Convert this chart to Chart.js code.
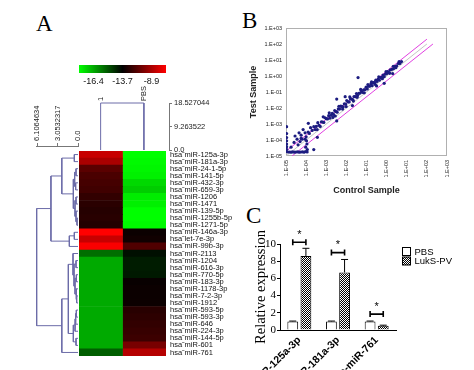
<!DOCTYPE html>
<html>
<head>
<meta charset="utf-8">
<script src="https://cdn.jsdelivr.net/npm/chart.js@4.4.1/dist/chart.umd.min.js"></script>
<style>
  html, body { margin: 0; padding: 0; background: #fff; }
  body { width: 474px; height: 370px; position: relative; overflow: hidden; }
  canvas { position: absolute; }
  .tag { position: absolute; font: 23px/23px 'Liberation Serif', 'Times New Roman', serif; color: #000; }
</style>
</head>
<body>
<div class="tag" style="left:36px;top:12px">A</div>
<div class="tag" style="left:242px;top:9px">B</div>
<div class="tag" style="left:246px;top:204px">C</div>
<canvas id="scaleBar" width="87" height="30" style="left:79px;top:60px"></canvas>
<canvas id="heat" width="163" height="205" style="left:79px;top:151px"></canvas>
<canvas id="colTree" width="140" height="76" style="left:79px;top:80px"></canvas>
<canvas id="rowTree" width="50" height="266" style="left:30px;top:90px"></canvas>
<canvas id="scatter" width="230" height="200" style="left:244px;top:0px"></canvas>
<canvas id="bars" width="224" height="195" style="left:250px;top:205px"></canvas>
<script>
const SANS = "'Liberation Sans', Arial, sans-serif"
const SERIF = "'Liberation Serif', 'Times New Roman', serif"
const TREE = '#6c6ca8'

// --- A: heatmap ---
const mirnas = [
  'hsa˜miR-125a-3p', 'hsa˜miR-181a-3p', 'hsa˜miR-24-1-5p', 'hsa˜miR-141-5p', 'hsa˜miR-432-3p',
  'hsa˜miR-659-3p', 'hsa˜miR-1206', 'hsa˜miR-1471', 'hsa˜miR-139-5p', 'hsa˜miR-1255b-5p',
  'hsa˜miR-1271-5p', 'hsa˜miR-146a-3p', 'hsa˜let-7e-3p', 'hsa˜miR-99b-3p', 'hsa˜miR-2113',
  'hsa˜miR-1204', 'hsa˜miR-616-3p', 'hsa˜miR-770-5p', 'hsa˜miR-183-3p', 'hsa˜miR-1178-3p',
  'hsa˜miR-7-2-3p', 'hsa˜miR-1912', 'hsa˜miR-593-5p', 'hsa˜miR-593-3p', 'hsa˜miR-646',
  'hsa˜miR-224-3p', 'hsa˜miR-144-5p', 'hsa˜miR-601', 'hsa˜miR-761',
]
const sampleNames = ['1', 'PBS']
const luksLevel = [-9.95, -10.5, -12.0, -12.3, -12.4, -12.5, -12.75, -12.9, -13.0, -12.95, -13.05,
  -8.9, -9.95, -9.0, -14.86, -15.5, -15.5, -15.5, -15.5, -15.5, -15.5, -15.5, -15.5, -15.5,
  -15.5, -15.5, -15.5, -15.5, -14.7]
const pbsLevel = [-16.4, -16.35, -16.3, -16.25, -16.0, -15.87, -16.2, -16.24, -16.4, -16.4, -16.35,
  -13.5, -13.4, -12.2, -13.86, -14.0, -14.0, -13.96, -13.55, -13.5, -13.5, -13.47, -12.95,
  -12.85, -12.76, -12.66, -12.57, -11.45, -10.3]
const scaleText = ['-16.4', '-13.7', '-8.9']
const scaleLow = -16.4, scaleMid = -13.7, scaleHigh = -8.9

// row tree: [left, right, height], leaves are row indexes
const rowTree = [
  [[[0, 1, 0.55],
    [[[2, 3, 0.3], [4, 5, 0.35], 0.5], [[6, 7, 0.3], [8, [9, 10, 0.15], 0.3], 0.45], 0.7], 2.43],
   [[11, 12, 0.55], 13, 1.3], 4.06],
  [[[14, [[15, 16, 0.3], [[17, 18, 0.25], [19, [20, 21, 0.2], 0.3], 0.45], 0.6], 0.75],
    [[[[22, 23, 0.25], 24, 0.35], 25, 0.45], [26, 27, 0.3], 0.7], 1.45], 28, 2.43],
  6.2,
]
const rowTreeTicks = [0, 3.0532317, 6.1064634]
const rowTreeTickText = ['0.0', '3.0532317', '6.1064634']
const colTreeHeight = 18.527044
const colTreeTicks = [0, 9.263522, 18.527044]
const colTreeTickText = ['0.0', '9.263522', '18.527044']

// --- B: scatter (log10 values) ---
const controlLog = [
  -4.97, -4.97, -4.97, -4.97, -4.97, -4.97, -4.97, -4.97,
  -4.9, -4.82, -4.74, -4.66, -4.58, -4.5, -4.42, -4.34, -4.26, -4.18, -4.1, -4.02, -3.95,
  -4.0, -3.98, -3.96, -4.02, -3.94, -4.05, -4.3, -4.25,
  -4.55, -4.45, -4.35, -4.25, -4.15, -4.05, -4.6, -4.4, -4.2, -4.75,
  -3.62, -3.44, -2.48, -0.12, -1.7, -0.5, 0.3, -1.42, -2.06, -2.48, -3.89,
  -3.9, -3.84, -3.78, -3.7, -3.62, -3.55, -3.5, -3.42, -3.36, -3.3, -3.24, -3.18, -3.12, -3.06,
  -3.0, -2.94, -2.88, -2.82, -2.76, -2.7, -2.64, -2.58, -2.52, -2.46, -2.4, -2.34, -2.28, -2.22,
  -2.16, -2.1, -2.04, -1.98, -1.92, -1.86, -1.8, -1.74, -1.68, -1.62, -1.56, -1.5, -1.44, -1.38,
  -1.32, -1.26, -1.2, -1.14, -1.08, -1.02, -0.96, -0.9, -0.84, -0.78, -0.72, -0.66, -0.6, -0.54,
  -0.48, -0.42, -0.36, -0.3, -0.24, -0.18, -0.12, -0.06, 0.0, 0.06, 0.12, 0.18, 0.26, 0.34,
  0.42, 0.5, 0.58, 0.66, 0.74,
  -3.45, -3.15, -2.85, -2.67, -2.55, -2.37, -2.19, -2.01, -1.83, -1.65, -1.47, -1.29, -1.11,
  -0.93, -0.75, -0.57, -0.39, -0.21, -0.03, 0.15, 0.33, 0.46, 0.62,
]
const testLog = [
  -3.17, -3.6, -3.85, -4.05, -4.25, -4.42, -4.58, -4.72,
  -4.75, -4.75, -4.76, -4.74, -4.76, -4.75, -4.74, -4.76, -4.75, -4.74, -4.76, -4.72, -4.75,
  -3.8, -4.05, -4.25, -4.45, -4.6, -3.95, -4.1, -3.9,
  -3.75, -3.95, -3.55, -3.7, -3.35, -3.55, -4.15, -4.3, -3.95, -4.45,
  -4.6, -3.83, -2.81, -0.46, -1.85, -0.62, 0.15, -0.1, -1.29, -1.44, -2.96,
  -3.5, -3.59, -3.23, -3.4, -3.17, -3.35, -3.15, -2.92, -3.08, -3.15, -2.86, -2.88, -2.9, -2.61,
  -2.67, -2.68, -2.48, -2.64, -2.46, -2.34, -2.4, -2.16, -2.22, -2.26, -2.06, -2.07, -1.88, -1.9,
  -1.94, -1.74, -1.76, -1.53, -1.62, -1.62, -1.42, -1.44, -1.48, -1.28, -1.29, -1.1, -1.22, -1.08,
  -1.07, -0.91, -1.02, -0.86, -0.86, -0.7, -0.81, -0.64, -0.64, -0.48, -0.6, -0.42, -0.42, -0.26,
  -0.34, -0.2, -0.26, -0.1, -0.08, 0.06, -0.04, 0.12, 0.14, 0.28, 0.22, 0.38, 0.42, 0.46,
  0.6, 0.64, 0.78, 0.78, 0.9,
  -3.35, -2.55, -2.3, -2.59, -2.5, -1.89, -2.07, -1.91, -1.31, -1.57, -1.33, -0.83, -1.05,
  -0.53, -0.37, -0.52, -0.05, -0.17, 0.27, 0.17, 0.61, 0.52, 0.9,
]
const decadeTicks = [1e-5, 1e-4, 1e-3, 1e-2, 1e-1, 1, 1e1, 1e2, 1e3]
const guideEnds = [1e-5, 1e2]
const foldChange = 2

// --- C: qPCR bars ---
const qpcrGenes = ['hsa-miR-125a-3p', 'hsa-miR-181a-3p', 'hsa-miR-761']
const pbsMean = [1, 1, 1]
const pbsErr = [0.04, 0.04, 0.04]
const luksMean = [8.6, 6.7, 0.5]
const luksErr = [0.9, 1.5, 0.06]
const sigLevel = [10.2, 9.0, 1.85]
const sigMark = ['*', '*', '*']

const base = { responsive: false, animation: false, devicePixelRatio: 1 }
const quiet = { legend: { display: false }, tooltip: { enabled: false } }
const noPad = s => { s.paddingLeft = s.paddingRight = s.paddingTop = s.paddingBottom = 0 }

function heatColour(v) {
  if (v <= scaleMid) {
    const t = Math.min(1, (scaleMid - v) / (scaleMid - scaleLow))
    return `rgb(0,${Math.round(255 * t)},0)`
  }
  const t = Math.min(1, (v - scaleMid) / (scaleHigh - scaleMid))
  return `rgb(${Math.round(255 * t)},0,0)`
}

function treeSegments(tree) {
  const segs = []
  const walk = node => {
    if (typeof node === 'number') return { y: node, h: 0 }
    const a = walk(node[0]), b = walk(node[1]), h = node[2]
    segs.push([{ x: a.h, y: a.y }, { x: h, y: a.y }, { x: h, y: b.y }, { x: b.h, y: b.y }])
    return { y: (a.y + b.y) / 2, h }
  }
  walk(tree)
  return segs
}

function expLabel(v) {
  const e = Math.round(Math.log10(v))
  return '1.E' + (e < 0 ? '-' : '+') + String(Math.abs(e)).padStart(2, '0')
}

function checker() {
  const c = document.createElement('canvas')
  c.width = 2; c.height = 2
  const g = c.getContext('2d')
  g.fillStyle = '#fff'; g.fillRect(0, 0, 2, 2)
  g.fillStyle = '#000'; g.fillRect(0, 0, 1, 1); g.fillRect(1, 1, 1, 1)
  return g.createPattern(c, 'repeat')
}

// colour key
new Chart(document.getElementById('scaleBar'), {
  type: 'bar',
  data: {
    labels: scaleText,
    datasets: [{
      data: [null, 1, null], barPercentage: 3, categoryPercentage: 1,
      backgroundColor: ctx => {
        const { ctx: g, chartArea } = ctx.chart
        if (!chartArea) return '#000'
        const grad = g.createLinearGradient(chartArea.left, 0, chartArea.right, 0)
        grad.addColorStop(0, '#00ff00'); grad.addColorStop(0.5, '#000'); grad.addColorStop(1, '#ff0000')
        return grad
      },
    }],
  },
  options: {
    ...base, layout: { padding: { top: 5 } }, plugins: quiet,
    scales: {
      x: { grid: { display: false, drawTicks: false }, border: { display: false },
           ticks: { font: { family: SANS, size: 9 }, color: '#111', padding: 3 },
           afterFit: s => { s.height = 17; noPad(s) } },
      y: { min: 0, max: 1, display: false },
    },
  },
})

// heatmap cells
new Chart(document.getElementById('heat'), {
  type: 'bar',
  data: {
    labels: mirnas,
    datasets: [
      { label: sampleNames[0], data: mirnas.map(() => 1), backgroundColor: luksLevel.map(heatColour) },
      { label: sampleNames[1], data: mirnas.map(() => 1), backgroundColor: pbsLevel.map(heatColour) },
    ],
  },
  options: {
    ...base, indexAxis: 'y', plugins: quiet,
    datasets: { bar: { categoryPercentage: 1, barPercentage: 1, borderWidth: 0 } },
    scales: {
      x: { stacked: true, min: 0, max: 2, display: false },
      y: { stacked: true, position: 'right', grid: { display: false, drawTicks: false }, border: { display: false },
           ticks: { font: { family: SANS, size: 7.5 }, color: '#111', padding: 4, autoSkip: false },
           afterFit: s => { s.width = 76; noPad(s) } },
    },
  },
})

// column dendrogram
new Chart(document.getElementById('colTree'), {
  type: 'scatter',
  data: {
    datasets: [{
      data: [{ x: 0.5, y: 0 }, { x: 0.5, y: colTreeHeight }, { x: 1.5, y: colTreeHeight }, { x: 1.5, y: 0 }],
      showLine: true, borderColor: TREE, borderWidth: 1, pointRadius: 0, clip: false,
    }],
  },
  options: {
    ...base, layout: { padding: { bottom: 6 } }, plugins: quiet,
    scales: {
      x: { type: 'linear', position: 'top', min: 0, max: 2.08,
           afterBuildTicks: s => { s.ticks = sampleNames.map((_, i) => ({ value: i + 0.5 })) },
           ticks: { callback: v => sampleNames[v - 0.5], minRotation: 90, maxRotation: 90, autoSkip: false,
                    labelOffset: 9, font: { family: SANS, size: 7.5 }, color: '#222', padding: 2 },
           grid: { display: false, drawTicks: false }, border: { display: false },
           afterFit: s => { s.height = 23; noPad(s) } },
      y: { position: 'right', min: 0, max: colTreeHeight,
           afterBuildTicks: s => { s.ticks = colTreeTicks.map(v => ({ value: v })) },
           ticks: { callback: v => colTreeTickText[colTreeTicks.indexOf(v)], autoSkip: false,
                    font: { family: SANS, size: 7.5 }, color: '#222', padding: 2 },
           grid: { drawOnChartArea: false, tickLength: 3, color: '#777' }, border: { color: '#777' },
           afterFit: s => { s.width = 50; noPad(s) } },
    },
  },
})

// row dendrogram
new Chart(document.getElementById('rowTree'), {
  type: 'scatter',
  data: {
    datasets: treeSegments(rowTree).map(seg => ({
      data: seg, showLine: true, borderColor: TREE, borderWidth: 1, pointRadius: 0, clip: false,
    })),
  },
  options: {
    ...base, layout: { padding: { left: 6, right: 2 } }, plugins: quiet,
    scales: {
      x: { type: 'linear', position: 'top', reverse: true, min: 0, max: 6.3,
           afterBuildTicks: s => { s.ticks = rowTreeTicks.map(v => ({ value: v })) },
           ticks: { callback: v => rowTreeTickText[rowTreeTicks.indexOf(v)], minRotation: 90, maxRotation: 90,
                    autoSkip: false, labelOffset: 9, font: { family: SANS, size: 7.5 }, color: '#222', padding: 2 },
           grid: { drawOnChartArea: false, tickLength: 3, color: '#777' }, border: { color: '#777' },
           afterFit: s => { s.height = 56; noPad(s) } },
      y: { type: 'linear', reverse: true, min: -1.21, max: 28.5, display: false },
    },
  },
})

// B: scatter
const logAxis = (title, isX) => ({
  type: 'logarithmic', min: 1e-5, max: 1e3,
  afterBuildTicks: s => { s.ticks = decadeTicks.map(v => ({ value: v })) },
  ticks: { callback: v => expLabel(v), autoSkip: false, font: { family: SANS, size: 5.5 }, color: '#222',
           minRotation: isX ? 90 : 0, maxRotation: isX ? 90 : 0, padding: 4 },
  grid: { display: false, drawTicks: false },
  border: { display: false },
  title: { display: true, text: title, font: { family: SANS, size: 9, weight: 'bold' }, color: '#222',
           padding: { top: 4, bottom: 4 } },
  afterFit: s => { if (isX) s.height = 44; else s.width = 42; noPad(s) },
})

const plotFrame = {
  id: 'plotFrame',
  beforeDatasetsDraw(chart) {
    const { ctx, chartArea: a } = chart
    ctx.save()
    ctx.strokeStyle = '#b0b0b0'
    ctx.lineWidth = 1
    ctx.strokeRect(a.left + 0.5, a.top + 0.5, a.right - a.left - 1, a.bottom - a.top - 1)
    ctx.restore()
  },
}

new Chart(document.getElementById('scatter'), {
  type: 'scatter',
  data: {
    datasets: [
      { data: controlLog.map((c, i) => ({ x: 10 ** c, y: 10 ** testLog[i] })),
        pointRadius: 1.6, pointBackgroundColor: '#1c1c80', pointBorderWidth: 0 },
      { data: guideEnds.map(v => ({ x: v, y: v })), showLine: true, borderColor: '#c4c4c4', borderWidth: 1, pointRadius: 0 },
      { data: guideEnds.map(v => ({ x: v, y: v * foldChange })), showLine: true, borderColor: '#e040e0', borderWidth: 1, pointRadius: 0 },
      { data: guideEnds.map(v => ({ x: v * foldChange, y: v })), showLine: true, borderColor: '#e040e0', borderWidth: 1, pointRadius: 0 },
    ],
  },
  options: {
    ...base, layout: { padding: { top: 28, right: 27 } }, plugins: quiet,
    scales: { x: logAxis('Control Sample', true), y: logAxis('Test Sample', false) },
  },
  plugins: [plotFrame],
})

// C: bars, error bars, significance brackets and a side legend
const barMarks = {
  id: 'barMarks',
  afterDatasetsDraw(chart) {
    const { ctx, chartArea, scales: { y } } = chart
    const a = chart.getDatasetMeta(0).data, b = chart.getDatasetMeta(1).data
    ctx.save()
    ctx.strokeStyle = '#000'
    ctx.lineWidth = 1
    ;[[a, pbsMean, pbsErr], [b, luksMean, luksErr]].forEach(([bars, mean, err]) => {
      bars.forEach((bar, j) => {
        const y0 = y.getPixelForValue(mean[j]), y1 = y.getPixelForValue(mean[j] + err[j])
        ctx.beginPath()
        ctx.moveTo(bar.x, y0); ctx.lineTo(bar.x, y1)
        ctx.moveTo(bar.x - 3.5, y1); ctx.lineTo(bar.x + 3.5, y1)
        ctx.stroke()
      })
    })
    ctx.lineWidth = 1.6
    ctx.fillStyle = '#000'
    ctx.font = `11px ${SANS}`
    ctx.textAlign = 'center'
    ctx.textBaseline = 'bottom'
    sigLevel.forEach((v, j) => {
      const yy = y.getPixelForValue(v)
      ctx.beginPath()
      ctx.moveTo(a[j].x, yy); ctx.lineTo(b[j].x, yy)
      ctx.moveTo(a[j].x, yy - 3); ctx.lineTo(a[j].x, yy + 3)
      ctx.moveTo(b[j].x, yy - 3); ctx.lineTo(b[j].x, yy + 3)
      ctx.stroke()
      ctx.fillText(sigMark[j], (a[j].x + b[j].x) / 2, yy - 2)
    })

    // legend beside the plot
    ctx.lineWidth = 1
    ctx.font = `9.5px ${SANS}`
    ctx.textAlign = 'left'
    ctx.textBaseline = 'middle'
    chart.data.datasets.forEach((ds, i) => {
      const x = chartArea.right + 6.5, top = chartArea.top + 3.5 + i * 9.5
      ctx.fillStyle = ds.backgroundColor
      ctx.fillRect(x, top, 8, 8)
      ctx.strokeStyle = ds.borderColor
      ctx.strokeRect(x, top, 8, 8)
      ctx.fillStyle = '#000'
      ctx.fillText(ds.label, x + 12, top + 4.5)
    })
    ctx.restore()
  },
}

new Chart(document.getElementById('bars'), {
  type: 'bar',
  data: {
    labels: qpcrGenes,
    datasets: [
      { label: 'PBS', data: pbsMean, backgroundColor: '#fff', borderColor: '#000', borderWidth: 1 },
      { label: 'LukS-PV', data: luksMean, backgroundColor: checker(), borderColor: '#000', borderWidth: 1 },
    ],
  },
  options: {
    ...base,
    layout: { padding: { top: 39, right: 78 } },
    datasets: { bar: { categoryPercentage: 0.68, barPercentage: 0.82 } },
    plugins: quiet,
    scales: {
      x: { grid: { display: false, drawTicks: false }, border: { color: '#000' },
           ticks: { minRotation: 45, maxRotation: 45, autoSkip: false, padding: 4,
                    font: { family: SANS, size: 10.5, weight: 'bold' }, color: '#000' },
           afterFit: s => { s.height = 70; noPad(s) } },
      y: { min: 0, max: 10,
           ticks: { stepSize: 2, font: { family: SERIF, size: 11 }, color: '#000', padding: 1 },
           grid: { drawOnChartArea: false, tickLength: 3, color: '#000' }, border: { color: '#000' },
           title: { display: true, text: 'Relative expression', font: { family: SERIF, size: 14.5 }, color: '#000',
                    padding: { top: 2, bottom: 0 } },
           afterFit: s => { s.width = 30; noPad(s) } },
    },
  },
  plugins: [barMarks],
})
</script>
</body>
</html>
